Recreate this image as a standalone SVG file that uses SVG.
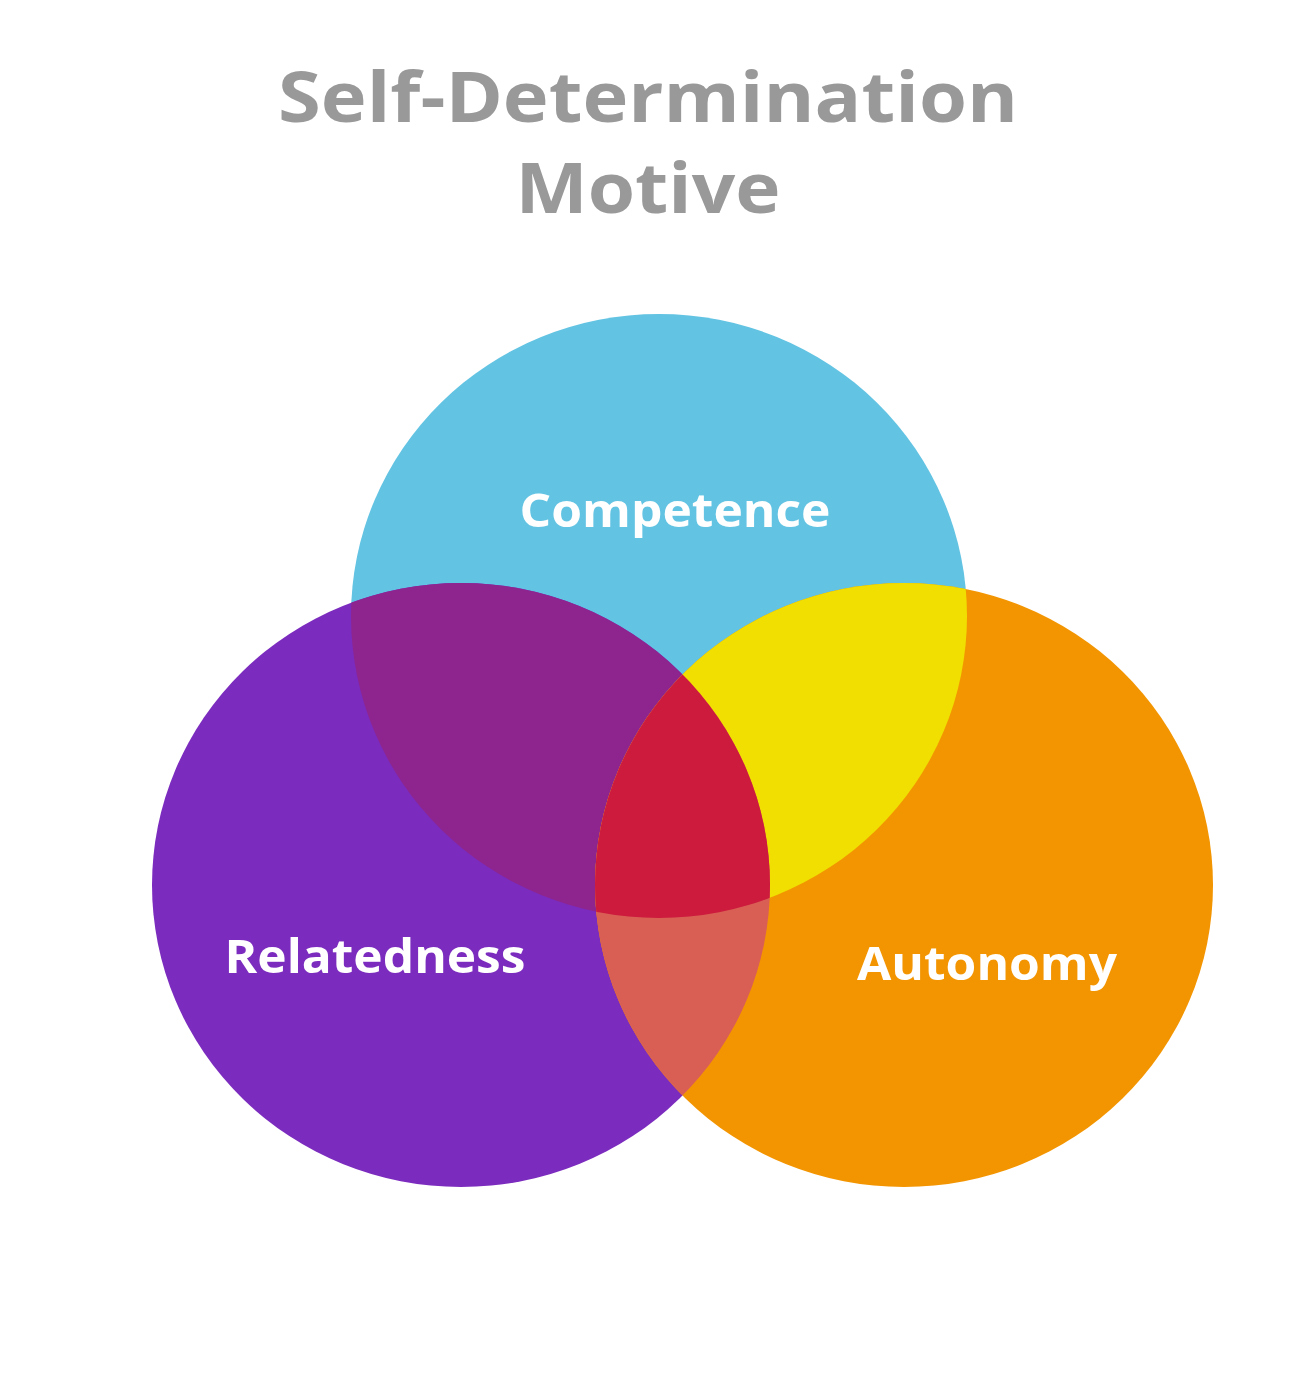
<svg xmlns="http://www.w3.org/2000/svg" width="1300" height="1390" viewBox="0 0 1300 1390">
<style>
.t{font-family:"Open Sans","Liberation Sans",sans-serif;font-weight:bold;fill:#999;font-size:70px;text-anchor:middle}
.l{font-family:"Open Sans","Liberation Sans",sans-serif;font-weight:bold;fill:#fff;font-size:47px;text-anchor:middle}
</style>
<defs>
<clipPath id="cT"><ellipse cx="659" cy="616" rx="308" ry="302"/></clipPath>
<clipPath id="cL"><ellipse cx="461" cy="885" rx="309" ry="302"/></clipPath>
<clipPath id="cR"><ellipse cx="904" cy="885" rx="309" ry="302"/></clipPath>
</defs>
<rect width="1300" height="1390" fill="#fff"/>
<text class="t" x="648" y="122" textLength="740" lengthAdjust="spacingAndGlyphs">Self-Determination</text>
<text class="t" x="648" y="213" textLength="265" lengthAdjust="spacingAndGlyphs">Motive</text>
<g id="competence"><ellipse cx="659" cy="616" rx="308" ry="302" fill="#62C3E3"/></g>
<g id="relatedness"><ellipse cx="461" cy="885" rx="309" ry="302" fill="#7B2BBE"/></g>
<g id="autonomy"><ellipse cx="904" cy="885" rx="309" ry="302" fill="#F39500"/></g>
<g id="overlaps">
<g clip-path="url(#cT)"><ellipse cx="461" cy="885" rx="309" ry="302" fill="#8E258F"/><ellipse cx="904" cy="885" rx="309" ry="302" fill="#F0DF00"/></g>
<g clip-path="url(#cL)"><ellipse cx="904" cy="885" rx="309" ry="302" fill="#D95F55"/></g>
<g clip-path="url(#cL)"><g clip-path="url(#cR)"><ellipse cx="659" cy="616" rx="308" ry="302" fill="#CC1B3D"/></g></g>
</g>
<text class="l" x="675" y="527" textLength="311" lengthAdjust="spacingAndGlyphs">Competence</text>
<text class="l" x="375" y="973" textLength="301" lengthAdjust="spacingAndGlyphs">Relatedness</text>
<text class="l" x="987" y="980" textLength="260" lengthAdjust="spacingAndGlyphs">Autonomy</text>
</svg>
